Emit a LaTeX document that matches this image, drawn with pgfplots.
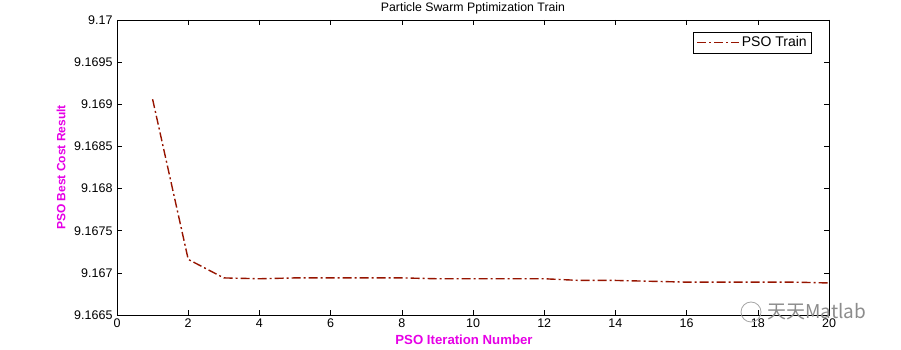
\documentclass[border=0pt]{standalone}
\usepackage{pgfplots}
\pgfplotsset{compat=1.18}
\usepackage{fontspec}
\setmainfont{Liberation Sans}
\newfontfamily\cjk{Noto Sans CJK SC}
\definecolor{psored}{RGB}{150,20,0}
\definecolor{labmag}{RGB}{230,0,230}
\begin{document}
\begin{tikzpicture}
\useasboundingbox (0pt,0pt) rectangle (901pt,350pt);
\begin{axis}[
  at={(117pt,35pt)}, anchor=south west,
  scale only axis, width=712pt, height=295pt,
  xmin=0, xmax=20, ymin=9.1665, ymax=9.17,
  xtick={0,2,...,20},
  ytick={9.1665,9.167,9.1675,9.168,9.1685,9.169,9.1695,9.17},
  yticklabels={9.1665,9.167,9.1675,9.168,9.1685,9.169,9.1695,9.17},
  scaled y ticks=false,
  tick align=inside, major tick length=5pt,
  tick style={black, line width=0.6pt},
  axis line style={black, line width=0.6pt},
  /pgf/number format/assume math mode=true,
  tick label style={font=\fontsize{12.5}{14}\selectfont},
  yticklabel style={xshift=-1pt},
  title={Particle Swarm Pptimization Train},
  title style={font=\fontsize{12.3}{14}\selectfont, yshift=-4pt},
  xlabel={\textbf{PSO Iteration Number}},
  ylabel={\textbf{PSO Best Cost Result}},
  xlabel style={font=\fontsize{13.2}{15}\selectfont, text=labmag, yshift=-1pt, xshift=-9pt},
  ylabel style={font=\fontsize{12}{14}\selectfont, text=labmag, yshift=2pt},
  legend style={at={(1,1)}, anchor=north east, xshift=-17pt, yshift=-12pt,
    font=\fontsize{14}{16}\selectfont, draw=black, line width=0.6pt,
    inner xsep=3pt, inner ysep=2.5pt, row sep=0pt},
  legend image code/.code={\draw[#1] (0pt,0pt) -- (42pt,0pt);},
  legend cell align=left,
]
\addplot[psored, dash pattern=on 9pt off 3pt on 2pt off 3pt, line width=1.4pt] coordinates {
(1,9.16906) (2,9.16716) (3,9.16694) (4,9.16693) (5,9.16694) (6,9.16694)
(7,9.16694) (8,9.16694) (9,9.16693) (10,9.16693) (11,9.16693) (12,9.16693)
(13,9.16691) (14,9.16691) (15,9.16690) (16,9.16689) (17,9.16689) (18,9.16689)
(19,9.16689) (20,9.16688)
};
\addlegendentry{PSO Train}
\end{axis}
\node[text=black!45, font=\cjk\fontsize{19}{21}\selectfont, anchor=west] at (764pt,38pt) {天天Matlab};
\draw[black!35, line width=0.8pt] (751pt,38pt) circle (10pt);
\end{tikzpicture}
\end{document}
